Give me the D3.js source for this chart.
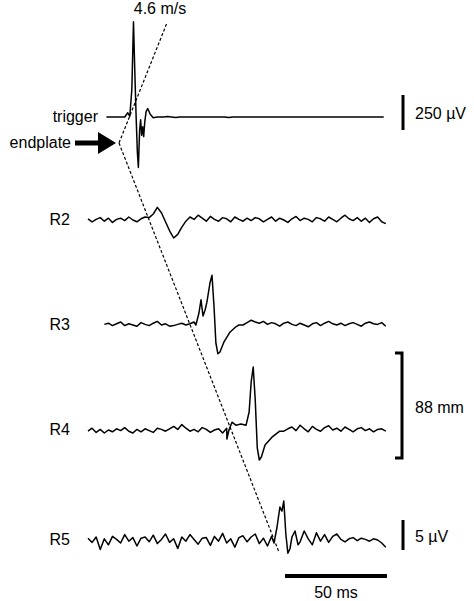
<!DOCTYPE html>
<html><head><meta charset="utf-8">
<script src="https://cdn.jsdelivr.net/npm/d3@7"></script>
<style>body{margin:0;background:#fff}text{font-family:"Liberation Sans",Arial,sans-serif;font-size:16px;fill:#000}</style>
</head><body><svg id="c" width="474" height="601"></svg>
<script>
// rows: label, baseline y, start time (ms), uV per full half-range
var rows = [
  {name: "trigger", base: 117, t0: 9, range: 1000},
  {name: "R2", base: 220, t0: 0, range: 10},
  {name: "R3", base: 325, t0: 8, range: 10},
  {name: "R4", base: 430, t0: 0, range: 10},
  {name: "R5", base: 540, t0: 0, range: 10}
];

// background samples every 2 ms (uV)
var trigNoise = [0,0,0,0,0,0,0,0,0,0,0,0,0,0,0,3,0,-3,0,0,0,0,0,0,0,0,0,0,0,0,-3,0,0,0,0,0,0,0,0,0,0,0,0,0,0,0,0,0,0,0,0,0,0,0,0,0,0,0,0,0,0,0,0,0,0,0,0,0,0];
var r2Noise = [0.2,-0.3,0.1,0.4,-0.2,0.3,-0.4,0.1,0.3,-0.1,0.5,0,-0.3,0.2,0.5,0.4,1.0,2.1,1.2,-0.3,-1.8,-3.0,-2.4,-1.2,-0.2,0.5,0.1,0.8,0.3,-0.2,0.6,0.1,-0.2,0.4,0.2,-0.3,0.5,0.1,-0.2,0.3,-0.1,0.4,0.2,-0.3,0.1,0.5,-0.2,0.3,0,-0.4,0.2,0.6,-0.1,0.3,0.1,-0.3,0.4,0.2,-0.2,0.5,0.1,-0.3,0.3,0.8,0.2,-0.1,0.4,-0.2,0.3,-0.4,0.2,0.5,-0.3,-0.6];
var r3Noise = [0.1,0.3,-0.1,0.2,0.5,-0.1,0.2,0,-0.2,0.4,0.1,-0.1,0.3,0.6,0,0.2,-0.2,-0.1,0.1,0.3,0,0.2,0.5,-0.1,0.1,0,0,0,0,0,0,0,0,0,0,0.4,0.8,0.5,0.3,0.6,0.1,0.4,0.2,-0.2,0.3,0.5,0.1,-0.1,0.3,0,-0.3,0.2,0.4,-0.1,0.3,0.6,0.2,0,0.3,-0.1,0.2,0.4,0.1,-0.2,0.3,0.5,0.2,0.1,0.4,-0.2];
var r4Noise = [-0.2,0.3,-0.4,0.1,-0.5,0,-0.3,0.2,-0.1,0.4,-0.2,-0.5,0.1,-0.3,0.2,-0.1,-0.4,0.3,0.1,-0.2,0.2,0.6,0.1,0.9,0.3,-0.2,0.1,-0.3,0.4,0.1,-0.4,0,0.2,-0.5,0.3,-0.2,0,0,0,0,0,0,0,0,0,0,0,0,-0.2,0.2,0.5,-0.1,0.8,0.2,-0.3,0.6,0.1,-0.2,0.4,0.7,0,0.3,-0.2,0.5,0.1,-0.3,0.2,0.4,-0.1,0.2,-0.3,0.1,0.2,-0.2];
var r5Noise = [0.3,-0.4,0.5,-1.6,0.2,-0.8,0.6,0.1,-0.5,0.9,-0.2,0.4,-1.0,0.3,0.5,-0.3,0.8,-0.6,0.1,1.0,-0.4,0.2,-1.4,0.5,-0.2,0.9,0.1,-0.7,0.3,0.4,-0.9,0.6,-0.2,1.1,-0.5,0.2,-1.2,0.4,0.7,-0.3,0.5,1.0,-0.6,0.3,-1.0,0.6,0,0,0,0,0,0,-0.3,1.5,0.2,-0.8,1.2,-0.2,0.9,-0.4,0.6,1.0,0.1,-0.3,0.2,0.4,-0.1,0.3,0.1,-0.2,0.2,0,-0.5,-1.2];

// fast components [t ms, uV]
var trigSpike = [[18,0],[19.5,30],[20.5,5],[21.5,200],[22.3,680],[23,300],[23.6,0],[24.2,-250],[24.7,-360],[25.3,-100],[25.8,-20],[26.3,-130],[26.8,-70],[27.3,-140],[27.8,-40],[28.5,40],[29.3,60],[30.5,20],[32,-5],[34,0]];
var r2Spike = [];
var r3Spike = [[52.9,0],[54.4,2],[55.4,4.2],[56.4,1.5],[57.4,2.5],[58.3,3.8],[59.8,7],[60.8,8.3],[61.8,3],[62.7,-3],[63.7,-4.8],[64.7,-4.5],[66.7,-2.8],[69.6,-1.2],[72.5,-0.3]];
var r4Spike = [[68.1,-1.5],[69.1,0],[70.6,1.3],[72.5,0.8],[75,1.0],[77.5,0.8],[79,3],[80,8],[81,10.5],[82,5],[83,-3],[84,-5],[85,-4.5],[86.8,-2.5],[90.2,-1.2],[94,-0.2]];
var r5Spike = [[91.2,-0.5],[92.6,2],[94.1,5.5],[95.1,4.8],[96,6.5],[97,1],[98,-2.2],[99,-1.5],[100,0.5],[101.5,1.5],[103,-0.8]];

var noises = [trigNoise, r2Noise, r3Noise, r4Noise, r5Noise];
var spikes = [trigSpike, r2Spike, r3Spike, r4Spike, r5Spike];

// conduction line: endplate vertex and end points (t ms, y)
var vertex = {t: 15.2, y: 143};
var upEnd = {t: 38.5, y: 24};
var downEnd = {t: 93.6, y: 552};

var svg = d3.select("#c");
var x = d3.scaleLinear().domain([0, 146.6]).range([88, 387]);
var line = d3.line().x(function(d){return x(d[0]);}).y(function(d){return d[1];});

rows.forEach(function(r, i) {
  var y = d3.scaleLinear().domain([-r.range, r.range]).range([r.base + (i ? 60 : 140), r.base - (i ? 60 : 140)]);
  var sp = spikes[i];
  var lo = sp.length ? sp[0][0] : -1, hi = sp.length ? sp[sp.length-1][0] : -1;
  var pts = noises[i].map(function(v, k){ return [r.t0 + k*2, v]; })
    .filter(function(p){ return p[0] < lo || p[0] > hi; })
    .concat(sp).sort(function(a,b){ return a[0]-b[0]; });
  svg.append("path").attr("d", line(pts.map(function(p){ return [p[0], y(p[1])]; })))
    .attr("fill", "none").attr("stroke", "#000").attr("stroke-width", 1.5).attr("stroke-linejoin", "round");
  svg.append("text").attr("x", i ? 70 : 98).attr("y", r.base + 5).attr("text-anchor", "end").text(r.name);
  r.y = y;
});

// dashed conduction lines
[[upEnd, vertex], [vertex, downEnd]].forEach(function(s) {
  svg.append("line").attr("x1", x(s[0].t)).attr("y1", s[0].y).attr("x2", x(s[1].t)).attr("y2", s[1].y)
    .attr("stroke", "#000").attr("stroke-width", 1.2).attr("stroke-dasharray", "3,2");
});

// endplate label + arrow
svg.append("text").attr("x", 71).attr("y", 148).attr("text-anchor", "end").text("endplate");
svg.append("line").attr("x1", 75).attr("y1", vertex.y).attr("x2", 100).attr("y2", vertex.y).attr("stroke", "#000").attr("stroke-width", 5);
svg.append("path").attr("d", "M98," + (vertex.y - 11) + "L" + (x(vertex.t) - 3) + "," + vertex.y + "L98," + (vertex.y + 11) + "Z");
svg.append("text").attr("x", 160).attr("y", 14).attr("text-anchor", "middle").text("4.6 m/s");

// scale bars
var ty = rows[0].y, ry = rows[4].y;
svg.append("line").attr("x1", 403).attr("x2", 403).attr("y1", ty(0) + 13).attr("y2", ty(250) + 13).attr("stroke", "#000").attr("stroke-width", 3);
svg.append("text").attr("x", 415).attr("y", 119).text("250 µV");
svg.append("line").attr("x1", 403).attr("x2", 403).attr("y1", ry(0) + 10).attr("y2", ry(5) + 10).attr("stroke", "#000").attr("stroke-width", 3);
svg.append("text").attr("x", 415).attr("y", 542).text("5 µV");
svg.append("path").attr("d", "M395," + (rows[2].base + 28) + "H402V" + (rows[3].base + 28) + "H395")
  .attr("fill", "none").attr("stroke", "#000").attr("stroke-width", 3);
svg.append("text").attr("x", 415).attr("y", 413).text("88 mm");
svg.append("line").attr("x1", x(146.6 - 50)).attr("x2", x(146.6)).attr("y1", 576).attr("y2", 576).attr("stroke", "#000").attr("stroke-width", 4);
svg.append("text").attr("x", x(146.6 - 25)).attr("y", 598).attr("text-anchor", "middle").text("50 ms");
</script></body></html>
